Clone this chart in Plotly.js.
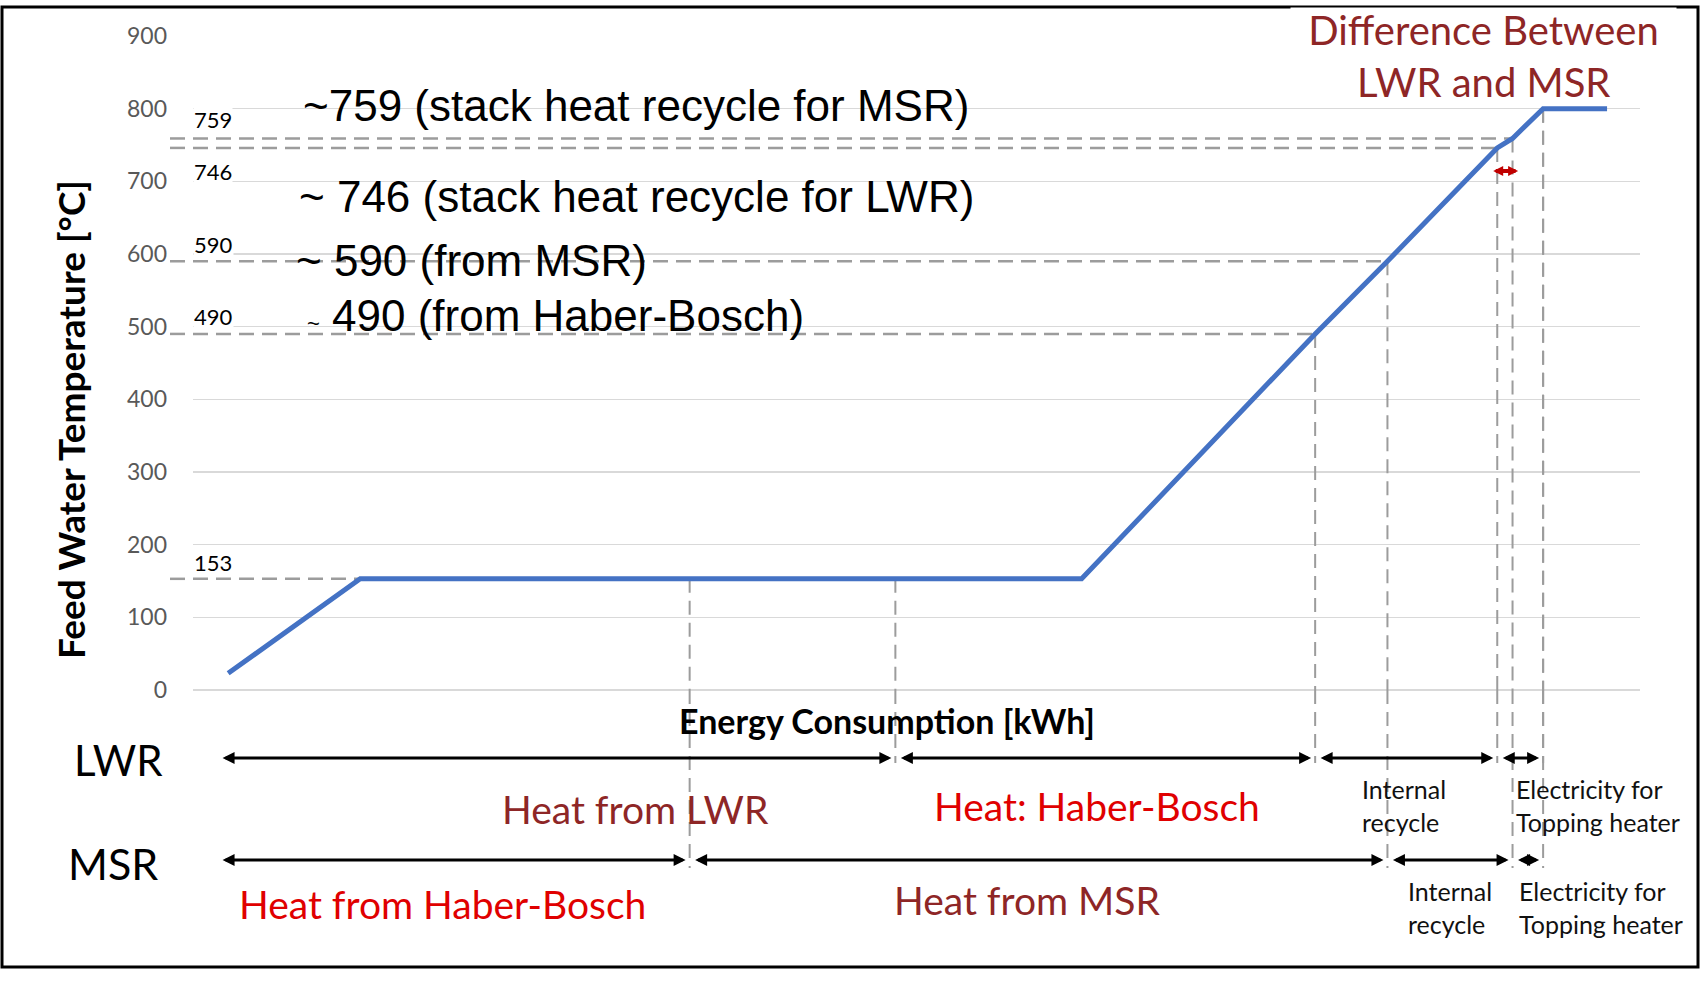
<!DOCTYPE html>
<html>
<head>
<meta charset="utf-8">
<script src="https://cdn.plot.ly/plotly-3.0.1.min.js"></script>
<style>
  html, body { margin: 0; padding: 0; background: #ffffff; }
  #chart { width: 1701px; height: 981px; }
</style>
</head>
<body>
<div id="chart"></div>
<script>
// ---- Data -------------------------------------------------------------
// Feed water heating curve: cumulative energy (kWh, relative units) vs temperature (°C)
const ENERGY = [0.8, 10.3, 62.2, 79.0, 84.2, 92.1, 93.2, 95.4, 100];
const TEMP   = [23, 153, 153, 490, 590, 746, 759, 800, 800];

// Temperatures marked with dashed guides and small value labels
const GUIDE_TEMPS = [759, 746, 590, 490, 153];

// Temperature axis ticks
const TEMP_TICKS = [0, 100, 200, 300, 400, 500, 600, 700, 800, 900];

// Energy split points for each reactor (segment boundaries, kWh)
const LWR_BOUNDS = [0, 48.8, 79.0, 92.1, 95.4];
const MSR_BOUNDS = [0, 34.0, 84.2, 93.2, 95.4];

// Heat source of each segment
const LWR_SEGMENTS = ['Heat from LWR', 'Heat: Haber-Bosch', 'Internal<br>recycle', 'Electricity for<br>Topping heater'];
const MSR_SEGMENTS = ['Heat from Haber-Bosch', 'Heat from MSR', 'Internal<br>recycle', 'Electricity for<br>Topping heater'];

// Call-outs for the heat recovery temperatures
const CALLOUTS = [
  '~759 (stack heat recycle for MSR)',
  '~ 746 (stack heat recycle for LWR)',
  '~ 590 (from MSR)',
  '<span style="font-size:22px">~</span> 490 (from Haber-Bosch)'
];

// ---- Geometry & styles --------------------------------------------------
const W = 1701, H = 981;
const PL = 193, PR = 1640, PT = 36, PB = 690;          // plot area in px
const PW = PR - PL, PH = PB - PT;
const px2x = px => (px - PL) / PW;                      // px -> paper x
const py2y = py => (PB - py) / PH;                      // px -> paper y

const LATO = 'Lato, "Open Sans", sans-serif';
const ARIAL = '"Liberation Sans", Arial, sans-serif';
const DARK_RED = '#8e2626';
const RED = '#e00000';
const GUIDE = '#9c9c9c';

const LWR_ROW = 758, MSR_ROW = 860;                     // arrow rows (px)
const LWR_GUIDE_END = 763, MSR_GUIDE_END = 868;
const DIFF_ARROW_OVERSHOOT = 0.4;                       // red arrow reaches a bit past the guides

// label offsets (px) of the small value labels relative to their guide
const GUIDE_LABEL_SHIFT = [19, -24, 17, 17, 16];
const CALLOUT_POS = [[301, 106], [297, 196], [294, 260], [305, 316]];

const LWR_TEXT = [
  {x: 635, y: 809, anchor: 'center', size: 39, color: DARK_RED},
  {x: 1097, y: 806, anchor: 'center', size: 39, color: RED},
  {x: 1360, y: 805, anchor: 'left', size: 25, color: '#111111'},
  {x: 1514, y: 805, anchor: 'left', size: 25, color: '#111111'}
];
const MSR_TEXT = [
  {x: 442, y: 904, anchor: 'center', size: 39, color: RED},
  {x: 1027, y: 900, anchor: 'center', size: 39, color: DARK_RED},
  {x: 1406, y: 907, anchor: 'left', size: 25, color: '#111111'},
  {x: 1517, y: 907, anchor: 'left', size: 25, color: '#111111'}
];

// ---- Helpers on the curve ----------------------------------------------
function energyAt(t) {
  for (let i = 0; i < TEMP.length - 1; i++) {
    const a = TEMP[i], b = TEMP[i + 1];
    if (b > a && t > a && t <= b) {
      return ENERGY[i] + (t - a) / (b - a) * (ENERGY[i + 1] - ENERGY[i]);
    }
  }
  return ENERGY[ENERGY.length - 1];
}
function tempAt(e) {
  for (let i = 0; i < ENERGY.length - 1; i++) {
    if (e >= ENERGY[i] && e <= ENERGY[i + 1]) {
      return TEMP[i] + (e - ENERGY[i]) / (ENERGY[i + 1] - ENERGY[i]) * (TEMP[i + 1] - TEMP[i]);
    }
  }
  return TEMP[0];
}

// ---- Shapes -------------------------------------------------------------
const shapes = [];
const XMIN = -1.73, XMAX = 102.37;

// horizontal guides: short lead-in left of the axis plus the part inside the plot
GUIDE_TEMPS.forEach(t => {
  shapes.push({type: 'line', xref: 'paper', yref: 'y', x0: px2x(170), x1: 0, y0: t, y1: t,
    line: {color: GUIDE, width: 2.5, dash: '15px,8px'}, layer: 'above'});
  shapes.push({type: 'line', xref: 'x', yref: 'y', x0: XMIN, x1: energyAt(t), y0: t, y1: t,
    line: {color: GUIDE, width: 2.5, dash: '15px,8px'}, layer: 'between'});
});

// vertical guides at each split point, running down to the reactor rows
function verticalGuide(e, endPx) {
  shapes.push({type: 'line', xref: 'x', yref: 'y', x0: e, x1: e, y0: tempAt(e), y1: 0,
    line: {color: GUIDE, width: 2, dash: '14px,8px'}, layer: 'between'});
  shapes.push({type: 'line', xref: 'x', yref: 'paper', x0: e, x1: e, y0: 0, y1: py2y(endPx),
    line: {color: GUIDE, width: 2, dash: '14px,8px'}, layer: 'above'});
}
LWR_BOUNDS.slice(1).forEach(e => verticalGuide(e, LWR_GUIDE_END));
MSR_BOUNDS.slice(1).forEach(e => verticalGuide(e, MSR_GUIDE_END));

// outer frame
shapes.push({type: 'rect', xref: 'paper', yref: 'paper',
  x0: px2x(2), x1: px2x(1698), y0: py2y(967), y1: py2y(7),
  line: {color: '#000000', width: 3}, fillcolor: 'rgba(0,0,0,0)', layer: 'above'});

// ---- Annotations --------------------------------------------------------
const annotations = [];
const note = o => annotations.push(Object.assign({xanchor: 'center', yanchor: 'middle'}, o));

// axis titles
note({text: '<b>Feed Water Temperature [°C]</b>', xref: 'paper', yref: 'paper',
  x: px2x(70), y: py2y(420), textangle: -90, showarrow: false,
  font: {family: LATO, size: 37, color: '#000000'}});
note({text: '<b>Energy Consumption [kWh]</b>', xref: 'paper', yref: 'paper',
  x: px2x(887), y: py2y(720), showarrow: false,
  font: {family: LATO, size: 34, color: '#000000'}});

// small value labels of the guides
GUIDE_TEMPS.forEach((t, i) => {
  note({text: String(t), xref: 'paper', yref: 'y', x: 0, y: t,
    xanchor: 'left', yshift: GUIDE_LABEL_SHIFT[i], showarrow: false,
    bgcolor: '#ffffff', borderpad: 0, font: {family: LATO, size: 22, color: '#000000'}});
});

// temperature call-outs
CALLOUTS.forEach((txt, i) => {
  note({text: txt, xref: 'paper', yref: 'paper',
    x: px2x(CALLOUT_POS[i][0]), y: py2y(CALLOUT_POS[i][1]), xanchor: 'left',
    showarrow: false, font: {family: ARIAL, size: 44, color: '#000000'}});
});

// difference note
note({text: 'Difference Between', xref: 'paper', yref: 'paper',
  x: px2x(1483), y: py2y(30), showarrow: false, bgcolor: '#ffffff', width: 383, height: 42,
  font: {family: LATO, size: 40, color: DARK_RED}});
note({text: 'LWR and MSR', xref: 'paper', yref: 'paper',
  x: px2x(1483), y: py2y(82), showarrow: false,
  font: {family: LATO, size: 40, color: DARK_RED}});

// red double arrow between the two stack-heat split points
note({text: '', xref: 'x', yref: 'paper', axref: 'x', ayref: 'pixel',
  x: energyAt(759) + DIFF_ARROW_OVERSHOOT, ax: energyAt(746) - DIFF_ARROW_OVERSHOOT,
  y: py2y(171), ay: 0,
  showarrow: true, arrowside: 'end+start', arrowhead: 2, startarrowhead: 2,
  arrowsize: 0.5, startarrowsize: 0.5, arrowwidth: 4, arrowcolor: '#c00000',
  standoff: 0, startstandoff: 0});

// reactor row names
note({text: 'LWR', xref: 'paper', yref: 'paper', x: px2x(72), y: py2y(760),
  xanchor: 'left', showarrow: false, font: {family: LATO, size: 42, color: '#000000'}});
note({text: 'MSR', xref: 'paper', yref: 'paper', x: px2x(66), y: py2y(863),
  xanchor: 'left', showarrow: false, font: {family: LATO, size: 43, color: '#000000'}});

// segment arrows and their labels
function segmentRow(bounds, names, textPos, rowPx) {
  for (let i = 0; i < bounds.length - 1; i++) {
    note({text: '', xref: 'x', yref: 'paper', axref: 'x', ayref: 'pixel',
      x: bounds[i + 1], ax: bounds[i], y: py2y(rowPx), ay: 0,
      showarrow: true, arrowside: 'end+start', arrowhead: 2, startarrowhead: 2,
      arrowsize: 0.8, startarrowsize: 0.8, arrowwidth: 3, arrowcolor: '#000000',
      standoff: 4, startstandoff: 4});
    const p = textPos[i];
    note({text: names[i], xref: 'paper', yref: 'paper',
      x: px2x(p.x), y: py2y(p.y), xanchor: p.anchor, align: 'left',
      showarrow: false, font: {family: LATO, size: p.size, color: p.color}});
  }
}
segmentRow(LWR_BOUNDS, LWR_SEGMENTS, LWR_TEXT, LWR_ROW);
segmentRow(MSR_BOUNDS, MSR_SEGMENTS, MSR_TEXT, MSR_ROW);

// ---- Figure -------------------------------------------------------------
const traces = [{
  type: 'scatter', mode: 'lines', x: ENERGY, y: TEMP,
  line: {color: '#4472c4', width: 5}, hoverinfo: 'x+y'
}];

const layout = {
  width: W, height: H,
  margin: {l: PL, r: W - PR, t: PT, b: H - PB, pad: 0},
  paper_bgcolor: '#ffffff', plot_bgcolor: '#ffffff',
  showlegend: false,
  xaxis: {range: [XMIN, XMAX], showgrid: false, zeroline: false, showline: false,
    showticklabels: false, ticks: '', fixedrange: true},
  yaxis: {range: [0, 900], tickmode: 'array', tickvals: TEMP_TICKS,
    showgrid: true, gridcolor: '#d9d9d9', gridwidth: 1.5,
    zeroline: true, zerolinecolor: '#d9d9d9', zerolinewidth: 1.5,
    showline: false, ticks: '', ticklabelstandoff: 25,
    tickfont: {family: LATO, size: 23, color: '#595959'}, fixedrange: true},
  shapes: shapes,
  annotations: annotations
};

Plotly.newPlot('chart', traces, layout, {staticPlot: true, displayModeBar: false});
</script>
</body>
</html>
